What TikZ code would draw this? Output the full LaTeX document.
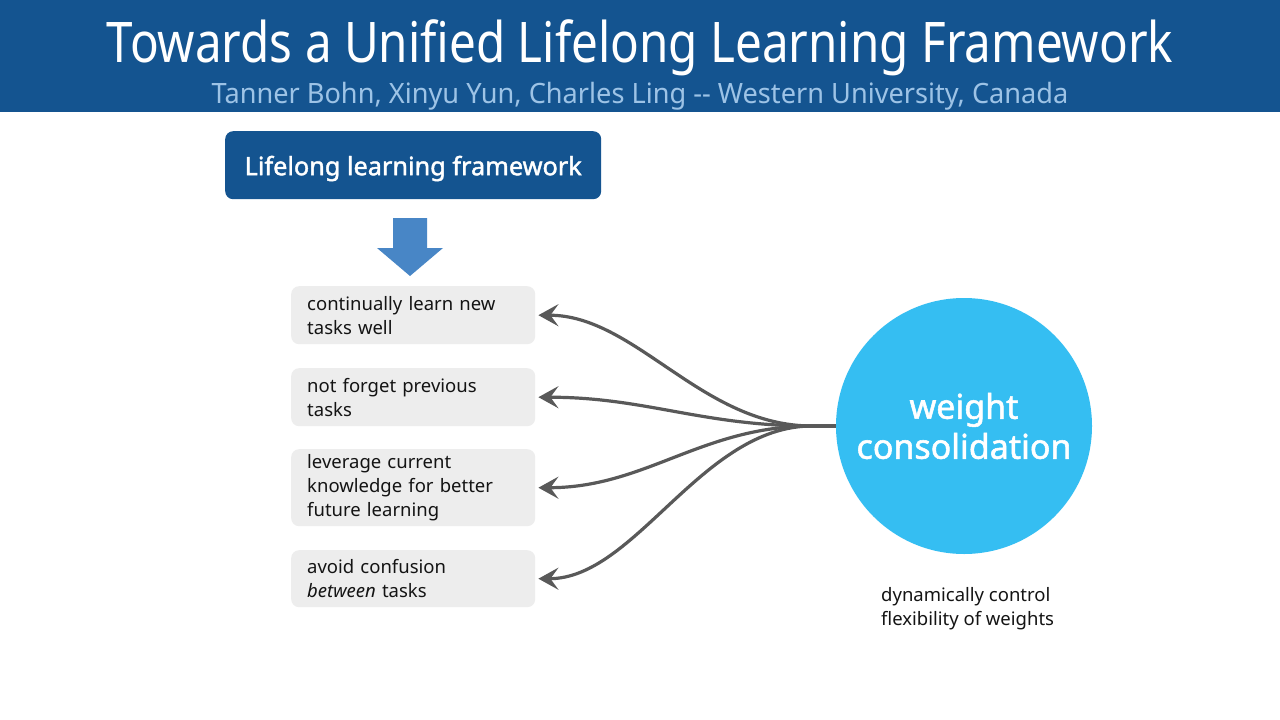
\documentclass[tikz,border=0pt]{standalone}
\usepackage{fontspec}
\setmainfont{Noto Sans}
\newfontfamily\semibold{Noto Sans}[FakeBold=1.6]
\usetikzlibrary{arrows.meta}
\definecolor{hdr}{RGB}{20,84,144}
\definecolor{subc}{RGB}{157,195,230}
\definecolor{arrowblue}{RGB}{72,134,198}
\definecolor{itemgray}{RGB}{237,237,237}
\definecolor{circblue}{RGB}{53,190,242}
\definecolor{conngray}{RGB}{89,89,89}
\definecolor{txt}{RGB}{20,20,20}
\tikzset{
  itembox/.style={rectangle, rounded corners=8pt, fill=itemgray, anchor=north west,
    minimum width=244pt, text width=212pt, inner xsep=16pt, inner ysep=0pt, align=left,
    text=txt, font=\fontsize{18.5}{24}\selectfont},
  conn/.style={draw=conngray, line width=3.2pt, shorten >=3pt,
    -{Stealth[length=20pt,width=22pt,inset=8pt]}},
}
\begin{document}
\begin{tikzpicture}[x=1pt,y=-1pt]
\useasboundingbox (0,0) rectangle (1280,720);
\fill[white] (0,0) rectangle (1280,720);
\fill[hdr] (0,0) rectangle (1280,112);
\node[text=white, font=\fontsize{56}{60}\selectfont, anchor=base, inner sep=0] (title) at (640,62)
  {\scalebox{0.85}[1]{Towards a Unified Lifelong Learning Framework}};
\node[text=subc, font=\fontsize{28}{32}\selectfont, anchor=base, inner sep=0] (subtitle) at (640,103)
  {\scalebox{0.97}[1]{Tanner Bohn, Xinyu Yun, Charles Ling -{}- Western University, Canada}};

\node[rectangle, rounded corners=8pt, fill=hdr, anchor=north west, minimum width=376pt,
  minimum height=68pt, inner sep=0, text height=26pt, text depth=6pt, text=white,
  font=\fontsize{25.3}{30}\selectfont\semibold]
  (frame) at (225,131) {Lifelong learning framework};

\fill[arrowblue] (393,218) -- (427,218) -- (427,248) -- (443,248) -- (410,276) -- (377,248) -- (393,248) -- cycle;

\node[itembox, minimum height=58pt] (b1) at (291,286) {continually learn new\\tasks well};
\node[itembox, minimum height=58pt] (b2) at (291,368) {not forget previous\\tasks};
\node[itembox, minimum height=77pt] (b3) at (291,449) {leverage current\\knowledge for better\\future learning};
\node[itembox, minimum height=57pt] (b4) at (291,550) {avoid confusion\\\emph{between} tasks};

\node[circle, fill=circblue, minimum size=256pt, inner sep=0, text=white, align=center,
  font=\fontsize{34}{40}\selectfont\semibold] (circ) at (964,426) {weight\\consolidation};

\node[anchor=north west, inner sep=0, align=left, text=txt, font=\fontsize{18.5}{24}\selectfont]
  (cap) at (881,587) {dynamically control\\flexibility of weights};

\coordinate (hub) at (812,426);
\draw[conn] (circ.west) -- (hub) .. controls +(-110,0) and +(100,0) .. (b1.east);
\draw[conn] (circ.west) -- (hub) .. controls +(-110,0) and +(110,0) .. (b2.east);
\draw[conn] (circ.west) -- (hub) .. controls +(-110,0) and +(110,0) .. (b3.east);
\draw[conn] (circ.west) -- (hub) .. controls +(-110,0) and +(100,0) .. (b4.east);
\end{tikzpicture}
\end{document}
